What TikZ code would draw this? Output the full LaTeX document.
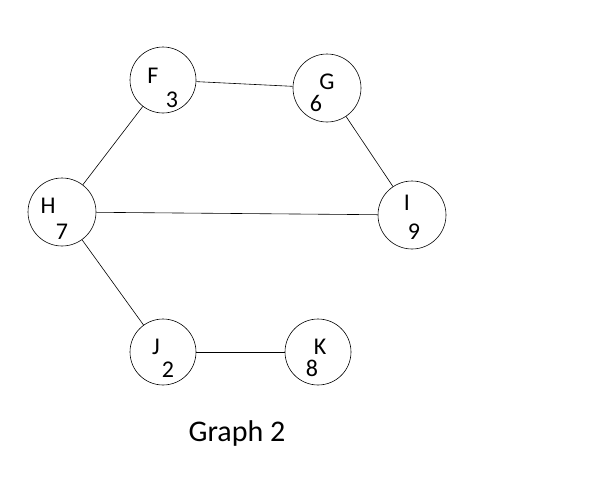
\documentclass[tikz,border=0pt]{standalone}
\usepackage{fontspec}
\setmainfont{Carlito}
\begin{document}
\begin{tikzpicture}[x=1pt,y=-1pt,
  vtx/.style={circle,draw,line width=0.6pt,minimum size=#1,inner sep=0pt},
  lbl/.style={font=\fontsize{24}{24}\selectfont,inner sep=0pt},
  edge/.style={line width=0.6pt}]
\useasboundingbox (0,0) rectangle (600,496);
\node[vtx=66pt] (F) at (163,80) {};
\node[vtx=68pt] (G) at (327,88) {};
\node[vtx=68pt] (H) at (62,212) {};
\node[vtx=68pt] (I) at (412,215) {};
\node[vtx=66pt] (J) at (163,352) {};
\node[vtx=66pt] (K) at (318,352) {};
\draw[edge] (F) -- (G);
\draw[edge] (G) -- (I);
\draw[edge] (F) -- (H);
\draw[edge] (H) -- (I);
\draw[edge] (H) -- (J);
\draw[edge] (J) -- (K);
\node[lbl] (fl) at (153,76) {F}; \node[lbl] (fn) at (172,100) {3};
\node[lbl] (gl) at (327,82) {G}; \node[lbl] (gn) at (316,103) {6};
\node[lbl] (hl) at (48,206) {H}; \node[lbl] (hn) at (62,232) {7};
\node[lbl] (il) at (407,203) {I}; \node[lbl] (in) at (414,232) {9};
\node[lbl] (jl) at (156,347) {J}; \node[lbl] (jn) at (168,370) {2};
\node[lbl] (kl) at (320,347) {K}; \node[lbl] (kn) at (312,368) {8};
\node[font=\fontsize{30}{30}\selectfont] (t) at (237,433) {Graph 2};
\end{tikzpicture}
\end{document}
